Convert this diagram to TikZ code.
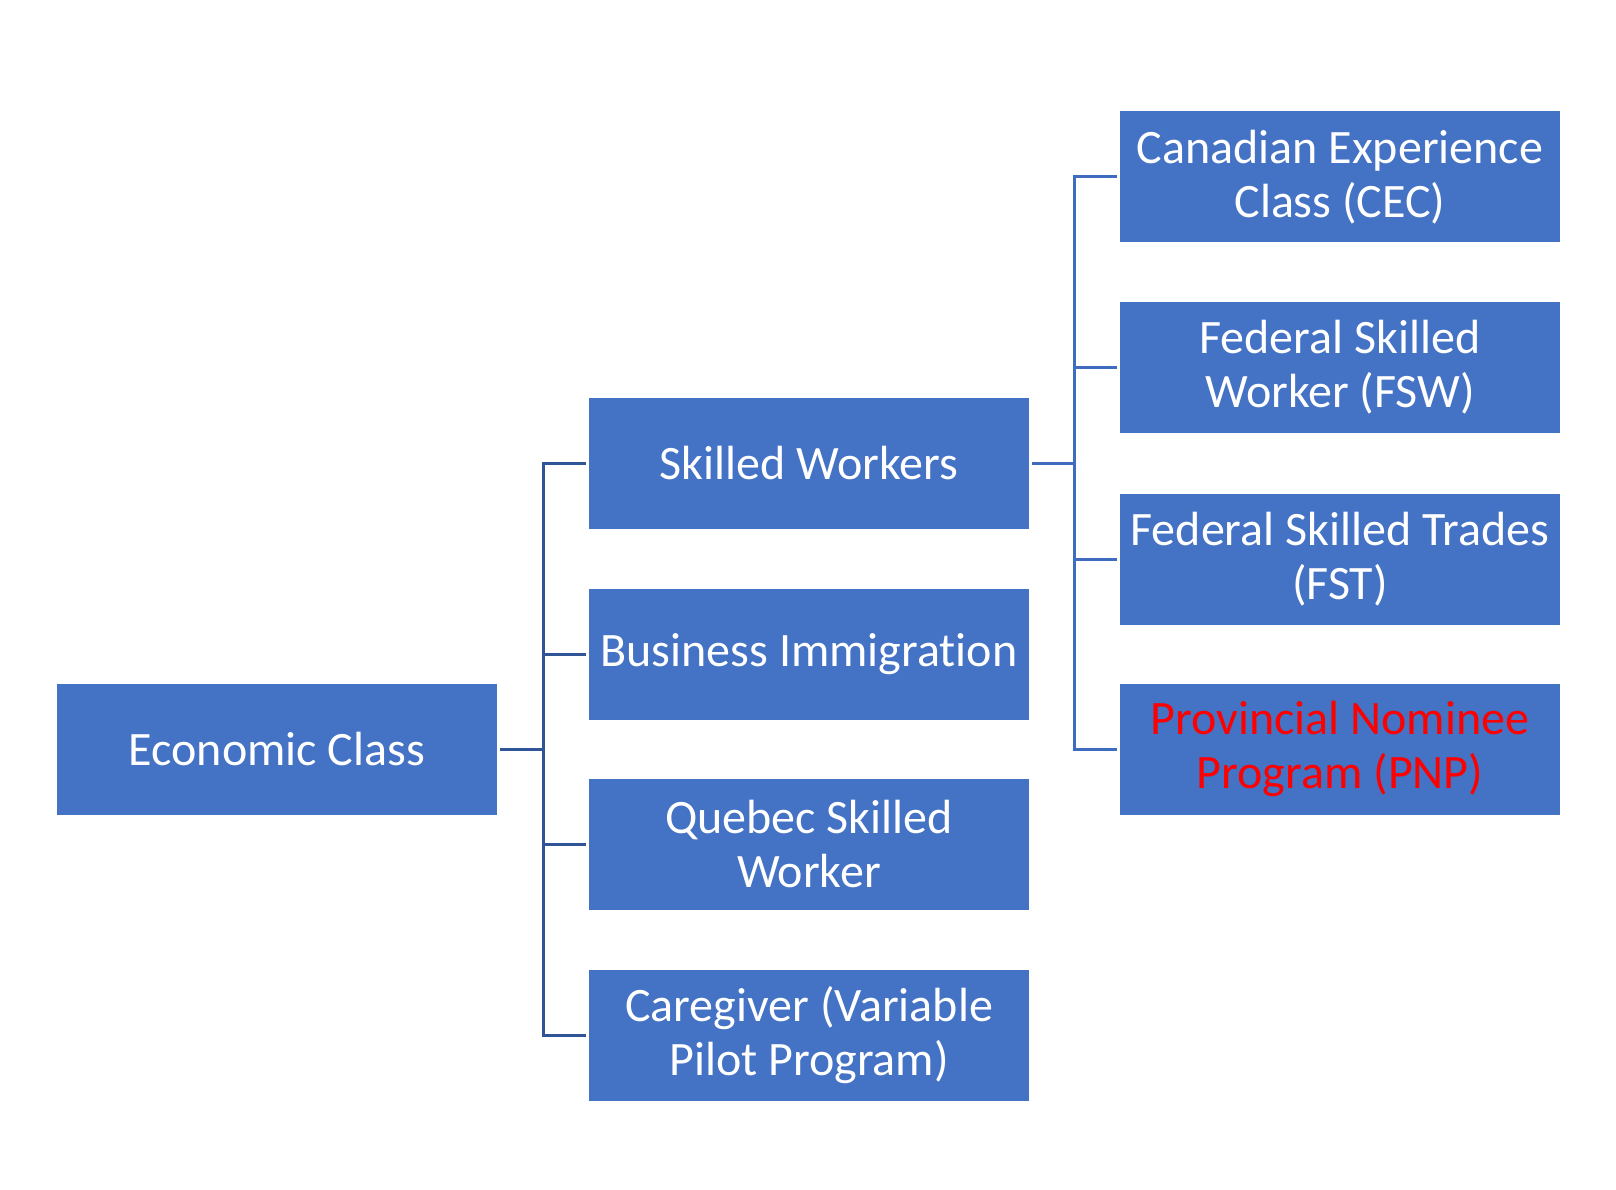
\documentclass[tikz,border=0pt]{standalone}
\usepackage{fontspec}
\setmainfont[Ligatures={NoCommon,NoContextual},Contextuals=NoAlternate]{Carlito}
\definecolor{boxblue}{HTML}{4472C4}
\definecolor{lineL}{HTML}{2F5597}
\definecolor{lineR}{HTML}{3F6CBF}
\definecolor{pnpred}{HTML}{FF0000}
\begin{document}
\begin{tikzpicture}[x=1pt,y=-1pt,
  box/.style={fill=boxblue,minimum width=440pt,minimum height=131pt,align=center,text=white,
    font=\fontsize{48}{54}\selectfont,inner sep=0pt},
  connL/.style={draw=lineL,line width=3pt},
  connR/.style={draw=lineR,line width=3pt}]
\useasboundingbox[fill=white] (0,0) rectangle (1616,1190);
\node[box] (eco) at (277,749) {Economic Class};
\node[box] (sw) at (809,463) {Skilled Workers};
\node[box] (bi) at (809,654) {Business Immigrat\kern0pt ion};
\node[box] (qc) at (809,844) {Quebec Skilled\\Worker};
\node[box] (cg) at (809,1035) {Caregiver (Variable\\Pilot Program)};
\node[box] (cec) at (1340,177) {Canadian Experience\\Class (CEC)};
\node[box] (fsw) at (1340,367.5) {Federal Skilled\\Worker (FSW)};
\node[box] (fst) at (1340,559) {Federal Skilled Trades\\(FST)};
\node[box,text=pnpred] (pnp) at (1340,749) {Provincial Nominee\\Program (PNP)};
\coordinate (tL) at (543,749);
\coordinate (tR) at (1074.5,463);
% left connectors
\draw[connL] ([xshift=3pt]eco.east) -- (tL);
\draw[connL] ([xshift=-3pt]sw.west) -| (tL|-cg.west) -- ([xshift=-3pt]cg.west);
\draw[connL] (tL|-bi.west) -- ([xshift=-3pt]bi.west);
\draw[connL] (tL|-qc.west) -- ([xshift=-3pt]qc.west);
% right connectors
\draw[connR] ([xshift=3pt]sw.east) -- (tR);
\draw[connR] ([xshift=-3pt]cec.west) -| (tR|-pnp.west) -- ([xshift=-3pt]pnp.west);
\draw[connR] (tR|-fsw.west) -- ([xshift=-3pt]fsw.west);
\draw[connR] (tR|-fst.west) -- ([xshift=-3pt]fst.west);
\end{tikzpicture}
\end{document}
